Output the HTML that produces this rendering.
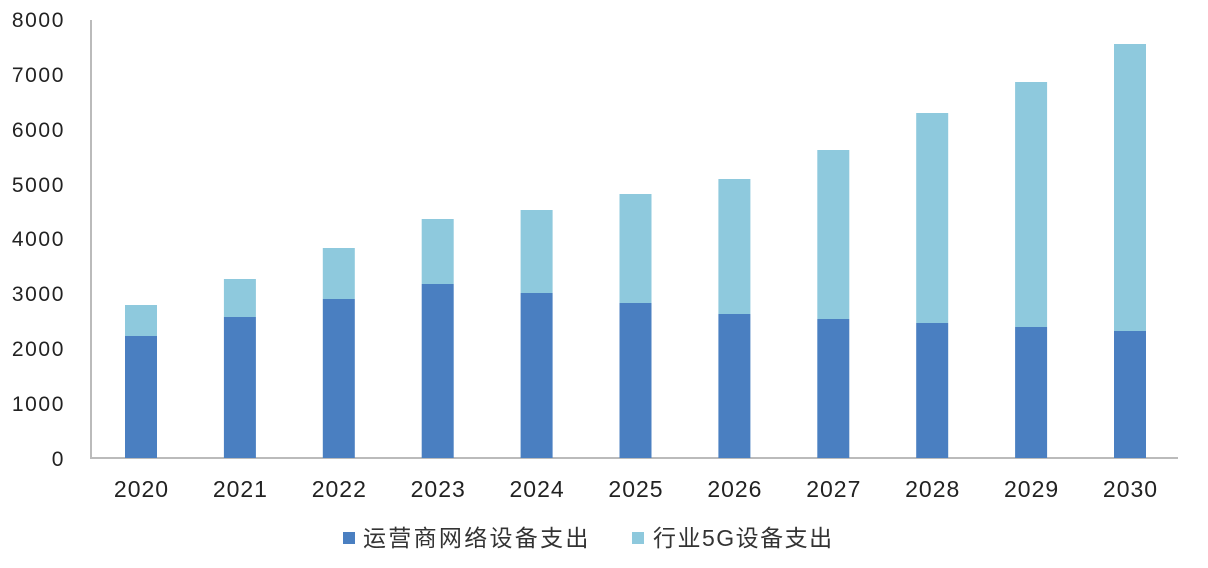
<!DOCTYPE html>
<html><head><meta charset="utf-8"><style>
html,body{margin:0;padding:0;background:#fff;}
</style></head><body>
<svg width="1208" height="568" xmlns="http://www.w3.org/2000/svg" style="display:block">
<g font-family="Liberation Sans, sans-serif" font-size="21" letter-spacing="1.6" fill="#222" text-anchor="end">
<text x="65" y="466">0</text>
<text x="65" y="411">1000</text>
<text x="65" y="356">2000</text>
<text x="65" y="301">3000</text>
<text x="65" y="246">4000</text>
<text x="65" y="192">5000</text>
<text x="65" y="137">6000</text>
<text x="65" y="82">7000</text>
<text x="65" y="27">8000</text>
</g>
<line x1="91" y1="20" x2="91" y2="458" stroke="#bbb" stroke-width="2"/>
<line x1="90" y1="458" x2="1178" y2="458" stroke="#bbb" stroke-width="2"/>
<g fill="#8ec9dd">
<rect x="125" y="305" width="32" height="31"/>
<rect x="223.9" y="279" width="32" height="38"/>
<rect x="322.8" y="248" width="32" height="51"/>
<rect x="421.7" y="219" width="32" height="65"/>
<rect x="520.6" y="210" width="32" height="83"/>
<rect x="619.5" y="194" width="32" height="109"/>
<rect x="718.4" y="179" width="32" height="135"/>
<rect x="817.3" y="150" width="32" height="169"/>
<rect x="916.2" y="113" width="32" height="210"/>
<rect x="1015.1" y="82" width="32" height="245"/>
<rect x="1114" y="44" width="32" height="287"/>
</g>
<g fill="#4a7fc1">
<rect x="125" y="336" width="32" height="122"/>
<rect x="223.9" y="317" width="32" height="141"/>
<rect x="322.8" y="299" width="32" height="159"/>
<rect x="421.7" y="284" width="32" height="174"/>
<rect x="520.6" y="293" width="32" height="165"/>
<rect x="619.5" y="303" width="32" height="155"/>
<rect x="718.4" y="314" width="32" height="144"/>
<rect x="817.3" y="319" width="32" height="139"/>
<rect x="916.2" y="323" width="32" height="135"/>
<rect x="1015.1" y="327" width="32" height="131"/>
<rect x="1114" y="331" width="32" height="127"/>
</g>
<g font-family="Liberation Sans, sans-serif" font-size="23" letter-spacing="1" fill="#222" text-anchor="middle">
<text x="141.5" y="497">2020</text>
<text x="240.4" y="497">2021</text>
<text x="339.3" y="497">2022</text>
<text x="438.2" y="497">2023</text>
<text x="537.1" y="497">2024</text>
<text x="636" y="497">2025</text>
<text x="734.9" y="497">2026</text>
<text x="833.8" y="497">2027</text>
<text x="932.7" y="497">2028</text>
<text x="1031.6" y="497">2029</text>
<text x="1130.5" y="497">2030</text>
</g>
<rect x="343" y="532" width="12" height="12" fill="#4a7fc1"/>
<text x="363" y="546" font-family="Liberation Sans, Noto Sans CJK SC, sans-serif" font-size="23" letter-spacing="2.3" fill="#333">运营商网络设备支出</text>
<rect x="632" y="532" width="12" height="12" fill="#8ec9dd"/>
<text x="653" y="546" font-family="Liberation Sans, Noto Sans CJK SC, sans-serif" font-size="23" letter-spacing="1.5" fill="#333">行业5G设备支出</text>
</svg>
</body></html>
